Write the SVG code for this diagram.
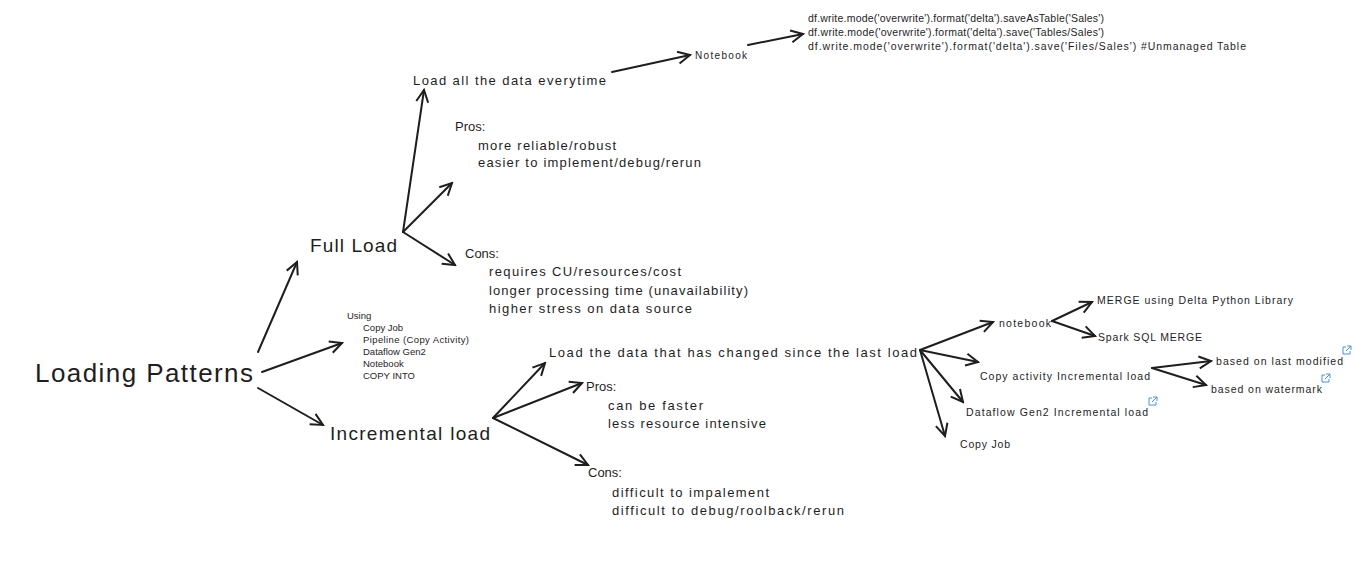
<svg xmlns="http://www.w3.org/2000/svg" width="1358" height="577" viewBox="0 0 1358 577">
<style>
text{font-family:"Liberation Sans",Arial,sans-serif;fill:#1e1e1e}
.c line{stroke:#1e1e1e;stroke-width:2;fill:none;marker-end:url(#a);stroke-linecap:round}
.ic{fill:none;stroke:#4a90d9;stroke-width:1}
</style>
<defs><marker id="a" markerWidth="16" markerHeight="16" refX="14" refY="8" orient="auto" markerUnits="userSpaceOnUse"><path d="M2,2 L14,8 L2,14" fill="none" stroke="#1e1e1e" stroke-width="2"/></marker></defs>
<rect width="1358" height="577" fill="#fff"/>
<g class="c">
<line x1="258" y1="352" x2="297" y2="262"/>
<line x1="262" y1="372" x2="342" y2="343"/>
<line x1="258" y1="388" x2="323" y2="425"/>
<line x1="403" y1="232" x2="424" y2="90"/>
<line x1="403" y1="232" x2="452" y2="183"/>
<line x1="403" y1="232" x2="455" y2="265"/>
<line x1="612" y1="72" x2="690" y2="55"/>
<line x1="748" y1="45" x2="803" y2="34"/>
<line x1="493" y1="418" x2="545" y2="363"/>
<line x1="493" y1="418" x2="582" y2="383"/>
<line x1="493" y1="418" x2="588" y2="465"/>
<line x1="920" y1="350" x2="993" y2="322"/>
<line x1="920" y1="350" x2="978" y2="362"/>
<line x1="920" y1="350" x2="963" y2="402"/>
<line x1="920" y1="350" x2="945" y2="436"/>
<line x1="1052" y1="321" x2="1092" y2="302"/>
<line x1="1052" y1="321" x2="1095" y2="336"/>
<line x1="1152" y1="368" x2="1211" y2="361"/>
<line x1="1152" y1="368" x2="1206" y2="385"/>
</g>
<g id="root"><text x="35" y="382" font-size="26" textLength="218">Loading Patterns</text></g>
<g id="full"><text x="310" y="252" font-size="19" textLength="87">Full Load</text></g>
<g id="inc"><text x="330" y="440" font-size="19" textLength="160">Incremental load</text></g>
<g id="using" font-size="9.5"><text x="347" y="319">Using</text><text x="363" y="331">Copy Job</text><text x="363" y="343" textLength="106">Pipeline (Copy Activity)</text><text x="363" y="355">Dataflow Gen2</text><text x="363" y="367">Notebook</text><text x="363" y="379">COPY INTO</text></g>
<g id="loadall"><text x="413" y="85" font-size="13" textLength="193">Load all the data everytime</text></g>
<g id="fpros" font-size="13"><text x="455" y="131">Pros:</text><text x="478" y="150" textLength="138">more reliable/robust</text><text x="478" y="167" textLength="223">easier to implement/debug/rerun</text></g>
<g id="fcons" font-size="13"><text x="465" y="258">Cons:</text><text x="489" y="276" textLength="192">requires CU/resources/cost</text><text x="489" y="295" textLength="259">longer processing time (unavailability)</text><text x="489" y="313" textLength="203">higher stress on data source</text></g>
<g id="nb1"><text x="695" y="59" font-size="10" textLength="52">Notebook</text></g>
<g id="df" font-size="10.5"><text x="808" y="22" textLength="296">df.write.mode('overwrite').format('delta').saveAsTable('Sales')</text><text x="808" y="36" textLength="296">df.write.mode('overwrite').format('delta').save('Tables/Sales')</text><text x="808" y="50" textLength="438">df.write.mode('overwrite').format('delta').save('Files/Sales') #Unmanaged Table</text></g>
<g id="loadchg"><text x="549" y="357" font-size="13" textLength="368">Load the data that has changed since the last load</text></g>
<g id="ipros" font-size="13"><text x="586" y="391">Pros:</text><text x="608" y="410" textLength="95">can be faster</text><text x="608" y="428" textLength="158">less resource intensive</text></g>
<g id="icons" font-size="13"><text x="588" y="477">Cons:</text><text x="612" y="497" textLength="157">difficult to impalement</text><text x="612" y="515" textLength="232">difficult to debug/roolback/rerun</text></g>
<g id="nb2"><text x="999" y="327" font-size="10.5" textLength="52">notebook</text></g>
<g id="merge"><text x="1097" y="304" font-size="10.5" textLength="196">MERGE using Delta Python Library</text></g>
<g id="spark"><text x="1098" y="341" font-size="10.5" textLength="104">Spark SQL MERGE</text></g>
<g id="copyact"><text x="980" y="380" font-size="10.5" textLength="170">Copy activity Incremental load</text></g>
<g id="lastmod"><text x="1216" y="365" font-size="10.5" textLength="127">based on last modified</text><path class="ic" d="M1346,347h-3v7h7v-3M1347,346h4v4M1351,346l-5,5"/></g>
<g id="wm"><text x="1211" y="393" font-size="10.5" textLength="111">based on watermark</text><path class="ic" d="M1325,375h-3v7h7v-3M1326,374h4v4M1330,374l-5,5"/></g>
<g id="dfg2"><text x="966" y="416" font-size="10.5" textLength="182">Dataflow Gen2 Incremental load</text><path class="ic" d="M1152,398h-3v7h7v-3M1153,397h4v4M1157,397l-5,5"/></g>
<g id="cj"><text x="960" y="448" font-size="10.5" textLength="50">Copy Job</text></g>
</svg>
